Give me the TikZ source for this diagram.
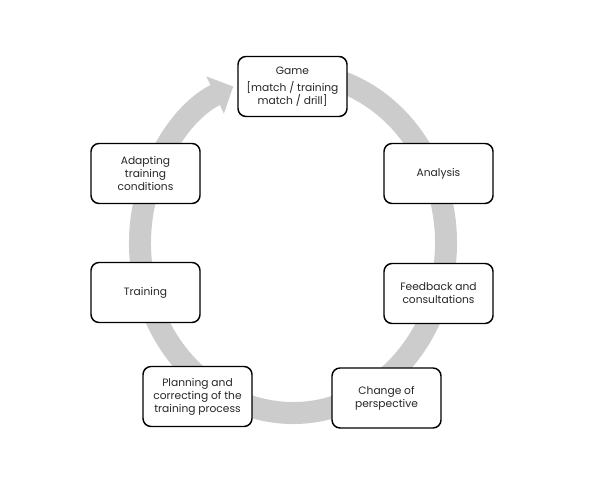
\documentclass[tikz,border=0pt]{standalone}
\usepackage{fontspec}
\setmainfont{Poppins}
\usetikzlibrary{arrows, arrows.meta}
\usetikzlibrary{calc}

\tikzset{stage/.style={rectangle, draw, rounded corners=6pt, line width=1.1pt, fill=white,
    minimum width=81.75pt, minimum height=45pt, align=center, text=black!85,
    font=\fontsize{8}{9.8}\selectfont}}

\begin{document}
\begin{tikzpicture}[x=0.75pt, y=0.75pt]
      \useasboundingbox (0,0) rectangle (599,492);
      \coordinate (c) at (293,249);

      % grey cycle arrow behind the boxes
      \draw[black!20, line width=16.5pt, -{Triangle[width=30pt, length=15pt]}]
        ($(c)+({153*cos(80)},{170*sin(80)})$) arc[start angle=80, end angle=-247, x radius=153, y radius=170];

      \node[stage] (game) at (292.5,405.5) {Game\\[3pt]{[}match / training\\match / drill{]}};
      \node[stage] (analysis) at (438.5,318.5) {Analysis};
      \node[stage] (feedback) at (438.5,198.5) {Feedback and\\consultations};
      \node[stage] (change) at (386.5,94) {Change of\\perspective};
      \node[stage] (planning) at (197.5,95.5) {Planning and\\correcting of the\\training process};
      \node[stage] (training) at (145.5,199.5) {Training};
      \node[stage] (adapting) at (145.5,318.5) {Adapting\\training\\conditions};
\end{tikzpicture}
\end{document}
